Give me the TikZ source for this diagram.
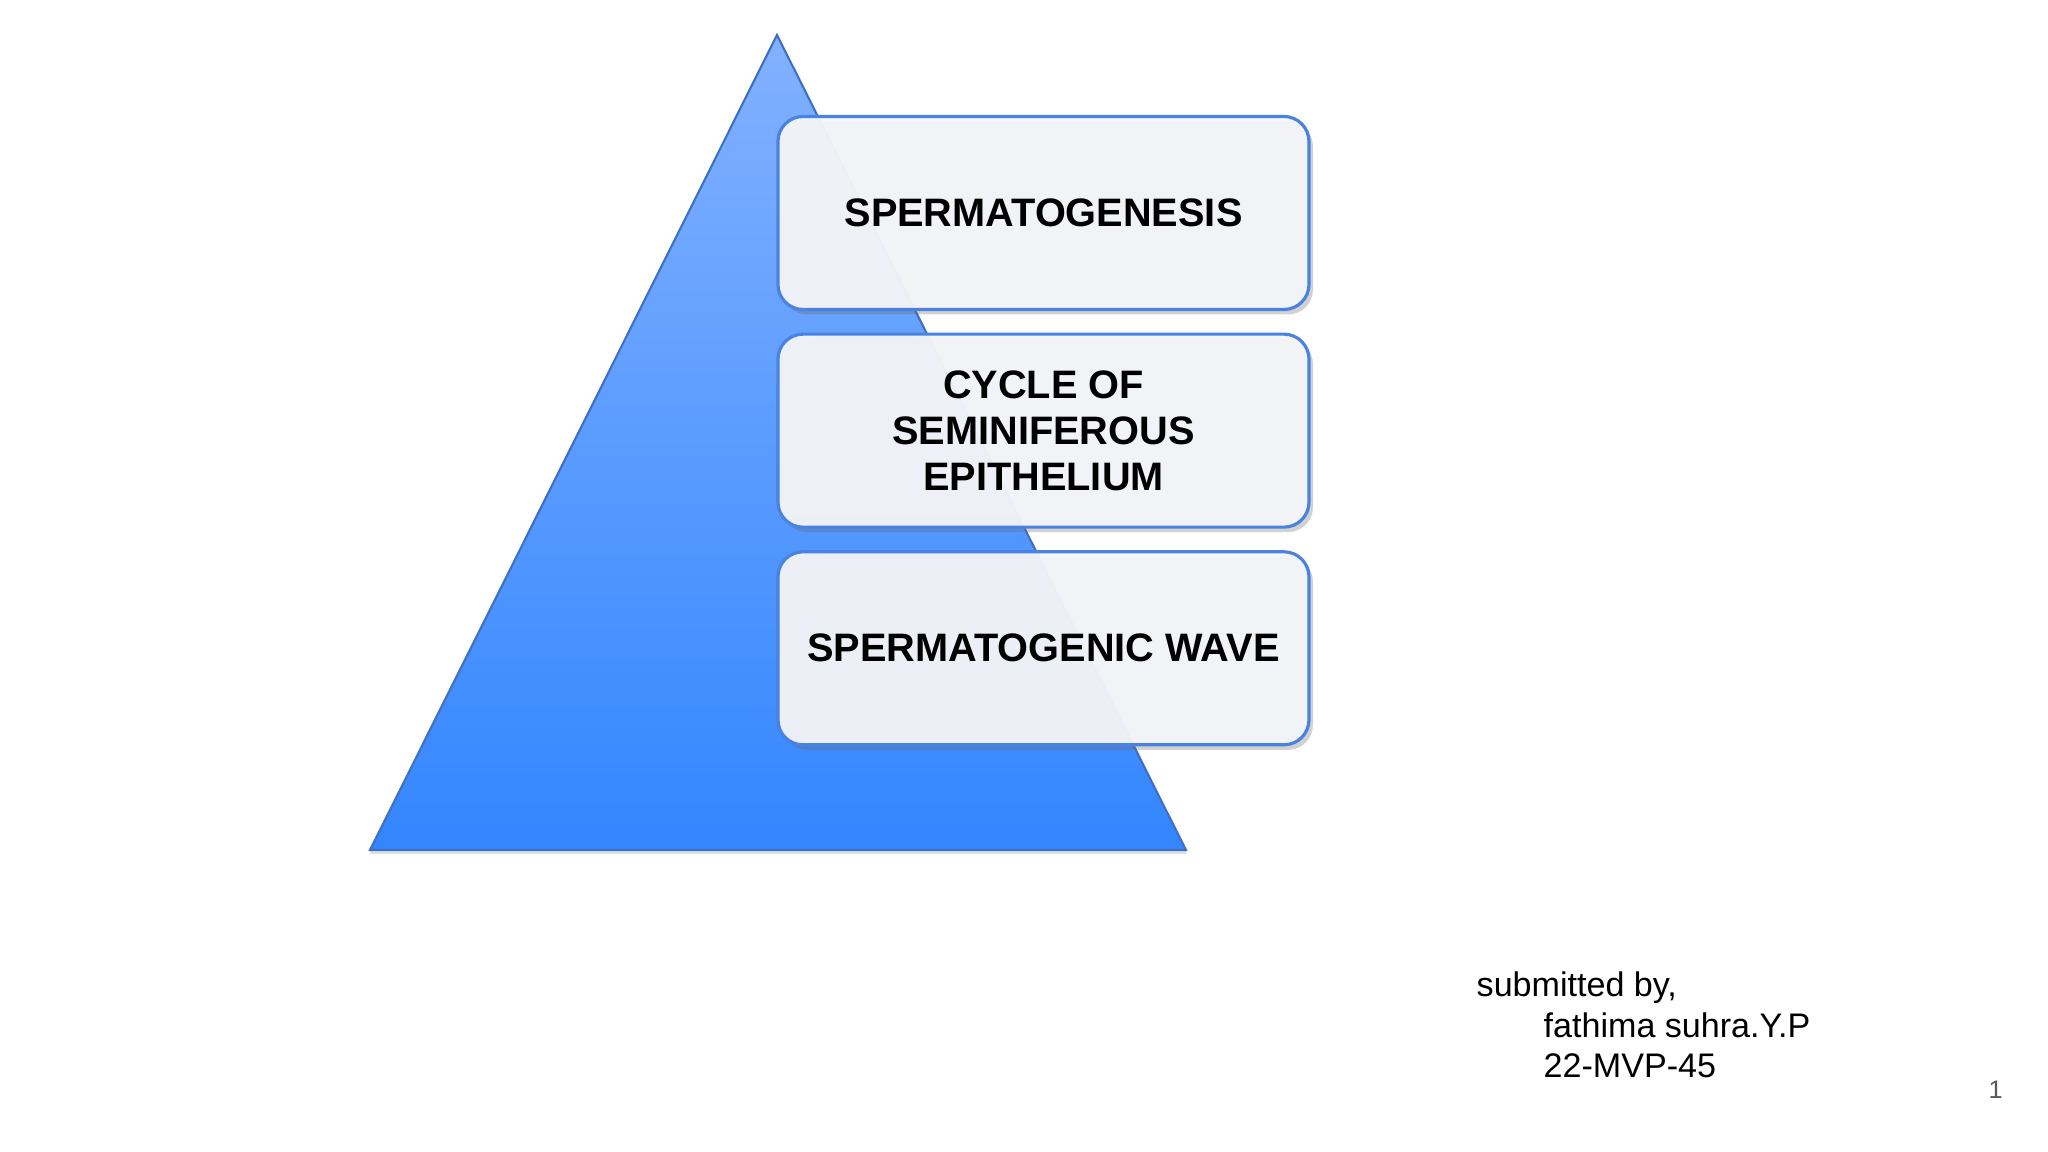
\documentclass[tikz,border=0pt]{standalone}
\usepackage{fontspec}
\setmainfont{Liberation Sans}
\usetikzlibrary{positioning,shadows}

\definecolor{pyrtop}{HTML}{82B1FF}
\definecolor{pyrbottom}{HTML}{3386FF}
\definecolor{pyredge}{HTML}{3F6FC4}
\definecolor{boxline}{HTML}{4A82E2}
\definecolor{boxfill}{HTML}{F5F6F9}
\definecolor{pagegray}{HTML}{595959}

\tikzset{
	stagebox/.style={draw=boxline, line width=0.9pt, fill=boxfill, fill opacity=0.95, text opacity=1,
		rounded corners=0.25cm, minimum width=5.31cm, minimum height=1.93cm, align=center,
		font=\bfseries\fontsize{11.3}{13}\selectfont,
		drop shadow={shadow xshift=0.04cm, shadow yshift=-0.05cm, opacity=0.3, fill=black!60}},
	credit/.style={anchor=base west, inner sep=0pt, font=\fontsize{9.7}{11.7}\selectfont}
}

\begin{document}
\begin{tikzpicture}
	\useasboundingbox (0,0) rectangle (20.48,11.52);
	
	\coordinate (apex) at (7.77,11.17);
	\coordinate (bl) at (3.70,3.02);
	\coordinate (br) at (11.86,3.02);
	
	% pyramid
	\fill[black!25, opacity=0.5] ([yshift=-0.04cm]bl) -- ([yshift=-0.04cm]br) -- ([yshift=-0.01cm]br) -- ([yshift=-0.01cm]bl) -- cycle;
	\shade[top color=pyrtop, bottom color=pyrbottom, draw=pyredge, line width=0.6pt] (apex) -- (br) -- (bl) -- cycle;
	
	% stages
	\node[stagebox] (genesis) at (10.435,9.39) {SPERMATOGENESIS};
	\node[stagebox, below=0.215cm of genesis] (cycle) {CYCLE OF\\SEMINIFEROUS\\EPITHELIUM};
	\node[stagebox, below=0.215cm of cycle] (wave) {SPERMATOGENIC WAVE};
	
	% credits
	\node[credit] (sub) at (14.76,1.55) {submitted by,};
	\node[credit] (name) at (15.43,1.14) {fathima suhra.Y.P};
	\node[credit] (roll) at (15.43,0.74) {22-MVP-45};
	\node[credit, text=pagegray, font=\fontsize{7.2}{8}\selectfont] (page) at (19.88,0.53) {1};
\end{tikzpicture}
\end{document}
